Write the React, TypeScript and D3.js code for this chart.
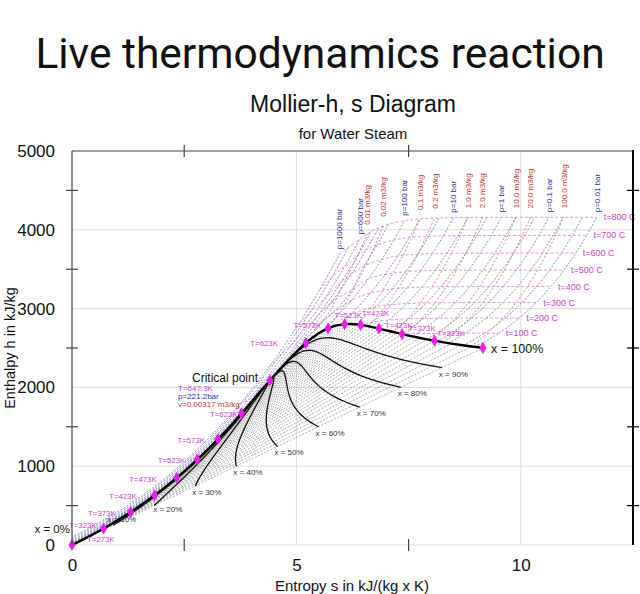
import { useEffect, useRef } from 'react';
import * as d3 from 'd3';

// saturated water / steam: t in °C, h in kJ/kg, s in kJ/(kg K)
const satT = [0.01, 10, 20, 30, 40, 50, 60, 70, 80, 90, 100, 110, 120, 130, 140, 150, 160, 170, 180, 190, 200, 210, 220, 230, 240, 250, 260, 270, 280, 290, 300, 310, 320, 330, 340, 350, 360, 370];
const satHf = [0, 42.0, 84.0, 125.8, 167.6, 209.3, 251.1, 293.0, 334.9, 376.9, 419.0, 461.3, 503.7, 546.3, 589.1, 632.2, 675.6, 719.2, 763.2, 807.6, 852.5, 897.8, 943.6, 990.1, 1037.3, 1085.4, 1134.4, 1184.5, 1236.0, 1289.1, 1344.0, 1401.3, 1461.5, 1525.3, 1594.2, 1670.6, 1760.5, 1890.5];
const satHg = [2501.4, 2519.8, 2538.1, 2556.3, 2574.3, 2592.1, 2609.6, 2626.8, 2643.7, 2660.1, 2676.1, 2691.5, 2706.3, 2720.5, 2733.9, 2746.5, 2758.1, 2768.7, 2778.2, 2786.4, 2793.2, 2798.5, 2802.1, 2804.0, 2803.8, 2801.5, 2796.6, 2789.7, 2779.6, 2766.2, 2749.0, 2727.3, 2700.1, 2665.9, 2622.0, 2563.9, 2481.0, 2332.1];
const satSf = [0, 0.151, 0.2966, 0.4369, 0.5725, 0.7038, 0.8312, 0.9549, 1.0753, 1.1925, 1.3069, 1.4185, 1.5276, 1.6344, 1.7391, 1.8418, 1.9427, 2.0419, 2.1396, 2.2359, 2.3309, 2.4248, 2.5178, 2.6099, 2.7015, 2.7927, 2.8838, 2.9751, 3.0668, 3.1594, 3.2534, 3.3493, 3.448, 3.5507, 3.6594, 3.7777, 3.9147, 4.1106];
const satSg = [9.1562, 8.9008, 8.6672, 8.4533, 8.257, 8.0763, 7.9096, 7.7553, 7.6122, 7.4791, 7.3549, 7.2387, 7.1296, 7.0269, 6.9299, 6.8379, 6.7502, 6.6663, 6.5857, 6.5079, 6.4323, 6.3585, 6.2861, 6.2146, 6.1437, 6.073, 6.0019, 5.9301, 5.8571, 5.7821, 5.7045, 5.623, 5.5362, 5.4417, 5.3357, 5.2112, 5.0526, 4.7971];

const critical = { s: 4.41, h: 2087, label: ['T=647.3K', 'p=221.2bar', 'v=0.00317 m3/kg'] };
const markedT = [0.01, 50, 100, 150, 200, 250, 300, 350];
const qualities = [0.1, 0.2, 0.3, 0.4, 0.5, 0.6, 0.7, 0.8, 0.9];

// isobars in bar, rows are [t °C, s, h]
const isobarP = [1000, 800, 600, 400, 300, 200, 100, 50, 20, 10, 5, 2, 1, 0.5, 0.2, 0.1, 0.05, 0.02, 0.01];
const labelledP = [1000, 600, 100, 10, 1, 0.1, 0.01];
const isobarLiquid: number[][][] = [
  [[0, -0.01, 95], [100, 1.22, 494], [200, 2.19, 904], [300, 3.0, 1330]],
  [[0, -0.005, 77], [100, 1.245, 480], [200, 2.22, 895], [300, 3.05, 1327]],
  [[0, 0.0, 58], [100, 1.27, 466], [200, 2.25, 885], [300, 3.09, 1323]],
  [[0, 0.0, 40], [100, 1.28, 453], [200, 2.27, 874], [300, 3.12, 1320], [350, 3.55, 1570]],
  [[0, 0.0, 30], [100, 1.285, 445], [200, 2.285, 868], [300, 3.14, 1315], [350, 3.55, 1560]],
  [[0, 0.0, 20], [100, 1.29, 437], [200, 2.3, 861], [300, 3.21, 1333], [350, 3.73, 1646], [365.8, 4.014, 1826]],
  [[0, 0.0, 10], [100, 1.3, 428], [200, 2.32, 856], [300, 3.24, 1343], [311.1, 3.36, 1408]],
  [], [], [], [], [], [], [], [], [], [], [], [],
];
const isobarVapour: number[][][] = [
  [[400, 3.74, 1790], [500, 4.39, 2260], [600, 5.0, 2760], [700, 5.52, 3240], [800, 5.96, 3690]],
  [[400, 3.82, 1815], [500, 4.63, 2400], [600, 5.3, 2950], [700, 5.78, 3390], [800, 6.17, 3785]],
  [[375, 3.71, 1700], [400, 3.93, 1843], [450, 4.41, 2179], [500, 4.93, 2570], [600, 5.65, 3138], [700, 6.08, 3540], [800, 6.41, 3880]],
  [[375, 3.93, 1743], [400, 4.11, 1931], [450, 4.95, 2513], [500, 5.47, 2903], [600, 6.01, 3346], [700, 6.375, 3681], [800, 6.666, 3979]],
  [[375, 3.83, 1740], [400, 4.47, 2151], [450, 5.44, 2821], [500, 5.78, 3081], [600, 6.235, 3444], [700, 6.558, 3746], [800, 6.835, 4024]],
  [[365.8, 4.927, 2410], [400, 5.554, 2818], [450, 6.006, 3060], [500, 6.24, 3238], [600, 6.505, 3538], [700, 6.8, 3809], [800, 7.051, 4070]],
  [[311.1, 5.614, 2725], [350, 5.944, 2923], [400, 6.212, 3097], [500, 6.597, 3374], [600, 6.903, 3625], [700, 7.169, 3870], [800, 7.408, 4115]],
  [[264, 5.973, 2794], [300, 6.208, 2925], [400, 6.647, 3196], [500, 6.976, 3434], [600, 7.259, 3667], [700, 7.512, 3900], [800, 7.744, 4137]],
  [[212.4, 6.34, 2800], [300, 6.767, 3024], [400, 7.127, 3248], [500, 7.432, 3468], [600, 7.702, 3690], [700, 7.949, 3917], [800, 8.176, 4150]],
  [[179.9, 6.587, 2778], [200, 6.694, 2828], [300, 7.123, 3051], [400, 7.465, 3264], [500, 7.762, 3479], [600, 8.029, 3698], [700, 8.273, 3923], [800, 8.5, 4154]],
  [[151.9, 6.822, 2749], [200, 7.06, 2855], [300, 7.46, 3064], [400, 7.794, 3272], [500, 8.087, 3484], [600, 8.352, 3702], [700, 8.596, 3926], [800, 8.821, 4157]],
  [[120.2, 7.127, 2707], [200, 7.507, 2871], [300, 7.893, 3072], [400, 8.222, 3277], [500, 8.513, 3487], [600, 8.777, 3704], [700, 9.02, 3928], [800, 9.246, 4158]],
  [[100, 7.361, 2676], [200, 7.834, 2875], [300, 8.216, 3074], [400, 8.544, 3278], [500, 8.834, 3488], [600, 9.098, 3704], [700, 9.34, 3928], [800, 9.565, 4158]],
  [[81.3, 7.594, 2646], [100, 7.695, 2683], [200, 8.159, 2878], [300, 8.539, 3076], [400, 8.866, 3279], [500, 9.156, 3489], [600, 9.419, 3705], [700, 9.661, 3929], [800, 9.887, 4159]],
  [[60.1, 7.908, 2610], [100, 8.125, 2686], [200, 8.585, 2879], [300, 8.963, 3076], [400, 9.289, 3279], [500, 9.579, 3489], [600, 9.842, 3705], [700, 10.084, 3929], [800, 10.309, 4159]],
  [[45.8, 8.15, 2585], [100, 8.448, 2688], [200, 8.904, 2880], [300, 9.281, 3077], [400, 9.608, 3280], [500, 9.898, 3489], [600, 10.161, 3705], [700, 10.403, 3929], [800, 10.628, 4159]],
  [[32.9, 8.395, 2562], [100, 8.768, 2688], [200, 9.224, 2880], [300, 9.601, 3077], [400, 9.928, 3280], [500, 10.218, 3489], [600, 10.481, 3705], [700, 10.723, 3929], [800, 10.948, 4159]],
  [[17.5, 8.723, 2534], [100, 9.191, 2688], [200, 9.647, 2880], [300, 10.024, 3077], [400, 10.351, 3280], [500, 10.641, 3489], [600, 10.904, 3705], [700, 11.146, 3929], [800, 11.371, 4159]],
  [[7.0, 8.975, 2514], [100, 9.511, 2688], [200, 9.967, 2880], [300, 10.344, 3077], [400, 10.671, 3280], [500, 10.961, 3489], [600, 11.224, 3705], [700, 11.466, 3929], [800, 11.691, 4159]],
];

const isothermT = [100, 200, 300, 400, 500, 600, 700, 800];

// isochores in m3/kg, rows are [s, h], from the dew line up to 800 °C
const isochoreV = [0.01, 0.02, 0.1, 0.2, 1.0, 2.0, 10.0, 20.0, 100.0];
const isochores: number[][][] = [
  [[5.286, 2599], [5.55, 2818], [5.77, 2985], [5.89, 3130], [6.13, 3400], [6.37, 3680], [6.58, 3950]],
  [[5.67, 2739], [5.88, 2890], [6.05, 3030], [6.32, 3290], [6.55, 3550], [6.75, 3800], [6.93, 4050]],
  [[6.34, 2799], [6.66, 3010], [6.92, 3231], [7.15, 3451], [7.37, 3674], [7.57, 3904], [7.76, 4138]],
  [[6.6, 2777], [6.68, 2826], [7.01, 3045], [7.27, 3260], [7.5, 3476], [7.71, 3696], [7.9, 3921], [8.08, 4153]],
  [[7.17, 2700], [7.49, 2873], [7.767, 3074], [8.021, 3278], [8.247, 3488], [8.455, 3704], [8.647, 3928], [8.827, 4158]],
  [[7.42, 2668], [7.43, 2676], [7.793, 2875], [8.087, 3074], [8.341, 3278], [8.567, 3488], [8.775, 3704], [8.967, 3928], [9.146, 4158]],
  [[8.03, 2599], [8.198, 2688], [8.544, 2880], [8.832, 3077], [9.085, 3280], [9.311, 3489], [9.518, 3705], [9.71, 3929], [9.89, 4159]],
  [[8.266, 2573], [8.517, 2688], [8.863, 2880], [9.152, 3077], [9.405, 3280], [9.631, 3489], [9.838, 3705], [10.03, 3929], [10.209, 4159]],
  [[8.89, 2521], [9.26, 2688], [9.607, 2880], [9.895, 3077], [10.148, 3280], [10.374, 3489], [10.581, 3705], [10.773, 3929], [10.953, 4159]],
];

const xTicks = [0, 5, 10];
const xMinor = [2.5, 7.5];
const yTicks = [0, 1000, 2000, 3000, 4000, 5000];
const yMinor = [500, 1500, 2500, 3500, 4500];

export default function App() {
  const ref = useRef<SVGSVGElement | null>(null);

  useEffect(() => {
    if (!ref.current) return;
    const svg = d3.select(ref.current);
    svg.selectAll('*').remove();

    const font = 'Liberation Sans, Arial, Helvetica, sans-serif';
    const x = d3.scaleLinear().domain([0, 12.5]).range([72, 633]);
    const y = d3.scaleLinear().domain([0, 5000]).range([545, 151]);
    const line = d3
      .line<number[]>()
      .x(d => x(d[0]))
      .y(d => y(d[1]))
      .curve(d3.curveCatmullRom.alpha(0.5));
    const straight = d3
      .line<number[]>()
      .x(d => x(d[0]))
      .y(d => y(d[1]));

    // titles
    svg.append('text').attr('x', 320).attr('y', 68).attr('text-anchor', 'middle')
      .attr('font-family', 'Roboto, sans-serif').attr('font-size', 42.5).attr('fill', '#111')
      .text('Live thermodynamics reaction');
    svg.append('text').attr('x', 353).attr('y', 112).attr('text-anchor', 'middle')
      .attr('font-family', font).attr('font-size', 23).attr('fill', '#111')
      .text('Mollier-h, s Diagram');
    svg.append('text').attr('x', 353).attr('y', 139).attr('text-anchor', 'middle')
      .attr('font-family', font).attr('font-size', 15).attr('fill', '#111')
      .text('for Water Steam');

    // grid
    const grid = svg.append('g').attr('stroke', '#dcdcdc').attr('stroke-width', 1);
    xTicks.filter(v => v > 0).forEach(v => {
      grid.append('line').attr('x1', x(v)).attr('x2', x(v)).attr('y1', y(5000)).attr('y2', y(0));
    });
    yTicks.filter(v => v < 5000).forEach(v => {
      grid.append('line').attr('x1', x(0)).attr('x2', x(12.5)).attr('y1', y(v)).attr('y2', y(v));
    });

    const sat = satT.map((t, i) => ({ t, sf: satSf[i], sg: satSg[i], hf: satHf[i], hg: satHg[i] }));

    // tie lines in the wet region
    const wet = svg.append('g').attr('fill', 'none').attr('stroke', '#808080')
      .attr('stroke-width', 0.65).attr('stroke-dasharray', '2,1.5');
    sat.forEach(r => {
      wet.append('path').attr('d', straight([[r.sf, r.hf], [r.sg, r.hg]]));
    });

    // isotherms in the superheated region
    const iso = svg.append('g').attr('fill', 'none').attr('stroke', '#e070e0')
      .attr('stroke-width', 0.75).attr('stroke-dasharray', '3,2');
    isothermT.forEach(T => {
      const pts: number[][] = [];
      const si = satT.indexOf(T);
      if (si >= 0) pts.push([satSg[si], satHg[si]]);
      isobarVapour.forEach(rows => rows.forEach(r => { if (r[0] === T) pts.push([r[1], r[2]]); }));
      pts.sort((a, b) => a[0] - b[0]);
      iso.append('path').attr('d', line(pts));
      const end = pts[pts.length - 1];
      svg.append('text').attr('x', x(end[0]) + 7).attr('y', y(end[1]) + 3)
        .attr('font-family', font).attr('font-size', 9).attr('fill', '#cc44cc')
        .text(`t=${T} C`);
    });

    // isochores
    const vol = svg.append('g').attr('fill', 'none').attr('stroke', '#c85050')
      .attr('stroke-width', 0.7).attr('stroke-dasharray', '2,2');
    isochores.forEach((rows, i) => {
      vol.append('path').attr('d', line(rows));
      const end = rows[rows.length - 1];
      const v = isochoreV[i];
      const ex = x(end[0]) + 3;
      const ey = y(end[1]) - 9;
      svg.append('text').attr('transform', `translate(${ex},${ey}) rotate(-90)`)
        .attr('font-family', font).attr('font-size', 8).attr('fill', '#c83232')
        .text(`${v < 1 ? v : v.toFixed(1)} m3/kg`);
    });

    // isobars
    const bar = svg.append('g').attr('fill', 'none').attr('stroke', '#6060a8')
      .attr('stroke-width', 0.7).attr('stroke-dasharray', '2,1.5');
    isobarP.forEach((p, i) => {
      const liq = isobarLiquid[i].map(r => [r[1], r[2]]);
      const vap = isobarVapour[i].map(r => [r[1], r[2]]);
      if (p > 221.2) {
        bar.append('path').attr('d', line([...liq, ...vap]));
      } else {
        if (liq.length) bar.append('path').attr('d', line(liq));
        bar.append('path').attr('d', line(vap));
      }
      if (labelledP.includes(p)) {
        const end = vap[vap.length - 1];
        const ex = x(end[0]) + 3;
        const ey = y(end[1]) - 5;
        svg.append('text').attr('transform', `translate(${ex},${ey}) rotate(-90)`)
          .attr('font-family', font).attr('font-size', 8).attr('fill', '#2d2d9c')
          .text(`p=${p} bar`);
      }
    });

    // lines of constant quality
    const qual = svg.append('g').attr('fill', 'none').attr('stroke', '#111').attr('stroke-width', 1.3);
    const qualityOffset: Record<string, number[]> = { '0.1': [-6, -3], '0.2': [-1, 6] };
    qualities.forEach(q => {
      const pts = sat.map(r => [r.sf + q * (r.sg - r.sf), r.hf + q * (r.hg - r.hf)]);
      pts.push([critical.s, critical.h]);
      qual.append('path').attr('d', line(pts));
      const [dx, dy] = qualityOffset[String(q)] ?? [-3, 9];
      svg.append('text').attr('x', x(pts[0][0]) + dx).attr('y', y(pts[0][1]) + dy)
        .attr('font-family', font).attr('font-size', 8).attr('fill', '#333')
        .text(`x = ${Math.round(q * 100)}%`);
    });

    // saturation curve
    const curve = [
      ...sat.map(r => [r.sf, r.hf]),
      [critical.s, critical.h],
      ...sat.slice().reverse().map(r => [r.sg, r.hg]),
    ];
    svg.append('path').attr('d', line(curve)).attr('fill', 'none')
      .attr('stroke', '#000').attr('stroke-width', 2.4);

    // temperature markers on both branches, label offsets [dx, dy, anchor at start]
    const diamond = d3.symbol().type(d3.symbolDiamond).size(42);
    const magenta = '#ea1eea';
    const labelPink = '#d23fd2';
    const liqOff = [[15, -3, 1], [-7, -1, 0], [-15, 4, 0], [-18, 4, 0], [-20, 4, 0], [-12, 4, 0], [-13, 4, 0], [-4, 4, 0]];
    const vapOff = [[0, 0, 1], [3, -5, 1], [6, -3, 1], [6, -1, 1], [1, -9, 1], [-10, -6, 1], [-7, 0, 0], [-28, 3, 0]];
    markedT.forEach((t, k) => {
      const r = sat[satT.indexOf(t)];
      const label = `T=${Math.round(t + 273)}K`;
      [[r.sf, r.hf, liqOff[k]], [r.sg, r.hg, vapOff[k]]].forEach(([s, h, off], side) => {
        const px = x(s as number);
        const py = y(h as number);
        svg.append('path').attr('d', diamond()).attr('transform', `translate(${px},${py})`).attr('fill', magenta);
        const o = off as number[];
        if (side === 1 && k === 0) return;
        svg.append('text').attr('x', px + o[0]).attr('y', py + o[1])
          .attr('text-anchor', o[2] ? 'start' : 'end')
          .attr('font-family', font).attr('font-size', 7.8).attr('fill', labelPink)
          .text(label);
      });
    });

    // critical point
    svg.append('path').attr('d', diamond()).attr('transform', `translate(${x(critical.s)},${y(critical.h)})`).attr('fill', magenta);
    svg.append('text').attr('x', 258).attr('y', 382).attr('text-anchor', 'end')
      .attr('font-family', font).attr('font-size', 12).attr('fill', '#111').text('Critical point');
    const critColors = [labelPink, '#2d2dc0', '#d03030'];
    critical.label.forEach((txt, i) => {
      svg.append('text').attr('x', 178).attr('y', 391 + i * 8)
        .attr('font-family', font).attr('font-size', 8).attr('fill', critColors[i]).text(txt);
    });

    const first = sat[0];
    svg.append('text').attr('x', 70).attr('y', 533).attr('text-anchor', 'end')
      .attr('font-family', font).attr('font-size', 11.5).attr('fill', '#111').text('x = 0%');
    svg.append('text').attr('x', x(first.sg) + 8).attr('y', y(first.hg) + 5)
      .attr('font-family', font).attr('font-size', 12.5).attr('fill', '#111').text('x = 100%');

    // frame and ticks
    const frame = svg.append('g').attr('stroke', '#444').attr('stroke-width', 1.2);
    frame.append('line').attr('x1', x(0)).attr('x2', x(0)).attr('y1', y(5000)).attr('y2', y(0));
    frame.append('line').attr('x1', x(0)).attr('x2', x(12.5)).attr('y1', y(5000)).attr('y2', y(5000));
    frame.append('line').attr('x1', x(12.5)).attr('x2', x(12.5)).attr('y1', y(5000) - 1).attr('y2', y(0))
      .attr('stroke', '#000').attr('stroke-width', 2);
    yMinor.forEach(v => {
      frame.append('line').attr('x1', x(0) - 6).attr('x2', x(0) + 6).attr('y1', y(v)).attr('y2', y(v));
      frame.append('line').attr('x1', x(12.5) - 6).attr('x2', x(12.5) + 6).attr('y1', y(v)).attr('y2', y(v))
        .attr('stroke', '#000');
    });
    xMinor.forEach(v => {
      frame.append('line').attr('x1', x(v)).attr('x2', x(v)).attr('y1', y(5000) - 6).attr('y2', y(5000) + 6);
      frame.append('line').attr('x1', x(v)).attr('x2', x(v)).attr('y1', y(0) - 6).attr('y2', y(0) + 6);
    });

    const yAxis = svg.append('g').attr('transform', `translate(${x(0) - 14},0)`)
      .call(d3.axisLeft(y).tickValues(yTicks).tickSize(0).tickFormat(d3.format('d')));
    yAxis.select('.domain').remove();
    yAxis.selectAll('text').attr('font-family', font).attr('font-size', 17).attr('fill', '#111');

    const xAxis = svg.append('g').attr('transform', `translate(0,${y(0) + 11})`)
      .call(d3.axisBottom(x).tickValues(xTicks).tickSize(0).tickFormat(d3.format('d')));
    xAxis.select('.domain').remove();
    xAxis.selectAll('text').attr('font-family', font).attr('font-size', 17).attr('fill', '#111');

    svg.append('text').attr('x', 352).attr('y', 591).attr('text-anchor', 'middle')
      .attr('font-family', font).attr('font-size', 15).attr('fill', '#111')
      .text('Entropy s in kJ/(kg x K)');
    svg.append('text').attr('transform', 'translate(15,348) rotate(-90)').attr('text-anchor', 'middle')
      .attr('font-family', font).attr('font-size', 14.5).attr('fill', '#111')
      .text('Enthalpy h in kJ/kg');
  }, []);

  return (
    <svg
      ref={ref}
      width={640}
      height={594}
      style={{ position: 'absolute', left: 0, top: 0, background: '#fff' }}
    />
  );
}
